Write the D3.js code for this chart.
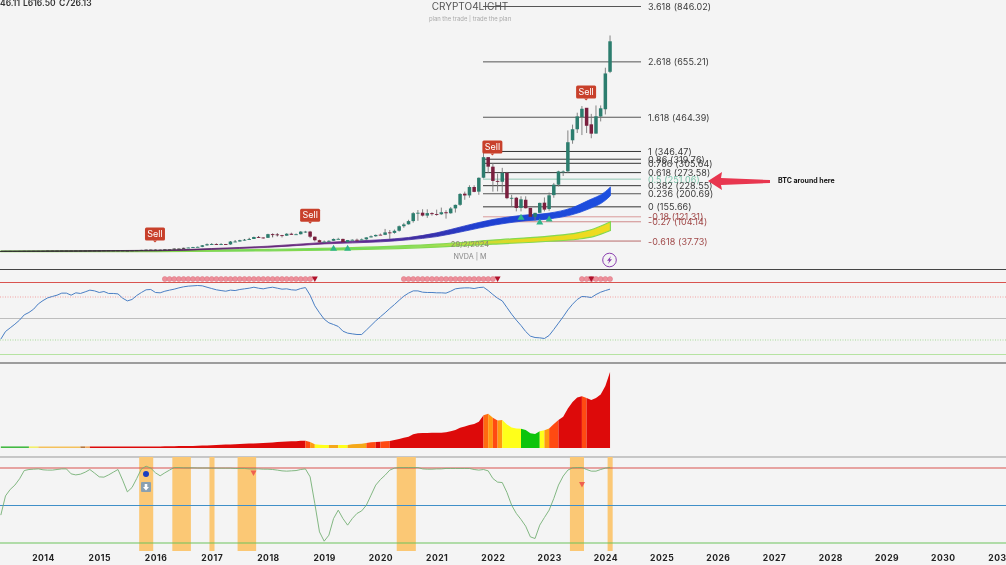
<!DOCTYPE html>
<html>
<head>
<meta charset="utf-8">
<script src="https://cdnjs.cloudflare.com/ajax/libs/d3/7.8.5/d3.min.js"></script>
<style>
html, body { margin: 0; padding: 0; background: #f4f4f4; overflow: hidden; }
svg { display: block; filter: blur(0.3px); font-family: Inter, "Liberation Sans", sans-serif; }
</style>
</head>
<body>
<svg id="chart" width="1006" height="565"></svg>
<script>
// monthly candles, April 2013 to February 2024
var firstMonth = 2013 + 3 / 12;

var opens = [3.2,3.2,3.6,3.5,3.4,3.65,3.9,3.8,4.0,
  4.0,3.9,4.6,4.5,4.6,4.8,4.65,4.4,4.85,4.6,4.9,5.2,
  5,5.1,5.7,5.2,5.5,5.5,5,5,5.6,6.1,7.1,8,
  8.2,7.3,7.9,8.9,8.9,11.7,11.8,14.3,15.3,17.2,17.9,23,
  26.9,27.4,25.3,27.3,26.1,36,36.2,40.7,42.4,44.8,51.8,50,
  48.9,61.5,60.7,58,56.3,63,59.3,61.3,70.3,70.4,52.7,40.7,
  32.7,36,38.7,45,45.1,34,41.2,42.2,41.9,43.6,50.3,54.3,
  59.7,59.1,67.6,65.9,73.3,88.9,95.4,106.5,133.8,135.4,125.4,134,
  131,130,137,133.5,150.3,162.6,201,195,224,208,256,327,
  294,245,242,273,186,187,152,180,152,121,135,170,
  148,196,232,277,278,385,423,465,497,440,408,467,
  492,621];
var highs = [3.3,3.7,3.75,3.6,3.7,3.95,3.95,4.05,4.1,
  4.2,4.7,4.8,4.75,4.8,4.85,4.75,4.9,4.95,4.95,5.3,5.4,
  5.3,5.8,5.8,5.7,5.9,5.6,5.2,5.9,6.3,7.3,8.2,8.6,
  8.4,8.2,9.2,9.4,12,12.3,14.6,15.6,17.6,18.4,23.7,29,
  30,29.3,29.8,27.7,37.6,40.8,41.9,44.8,48.8,52.6,54.6,49.9,
  62.6,63.9,64.6,59,65,66.5,63.7,72.4,72.8,72.9,53.6,42.6,
  40,40.5,46.6,48.9,45.9,41.5,43.9,46.2,46.6,50.8,57.3,60.4,
  63.5,79.5,75.8,77.4,91.5,100.5,111,137.5,144.6,147.3,147.1,136.9,
  146,153,144,155,163.5,203,208,230,230,257,346.5,320,
  307,270,290,276,197,190,192,192,146,135,170,188,
  205,238,280,281,419,439,480,503,477,476,505,505,
  635,746.11];
var lows = [3.0,3.2,3.4,3.3,3.35,3.6,3.65,3.75,3.85,
  3.85,3.9,4.4,4.4,4.55,4.55,4.3,4.35,4.55,4.2,4.85,4.8,
  4.7,5,5.1,5.1,5.3,4.9,4.7,4.4,5.4,5.9,6.9,7.6,
  6.5,6.6,7.7,8.7,8.7,11,11.2,13.9,14.7,16.8,16.7,22.2,
  24.2,24.6,24,25.1,25.3,34.3,36.3,39.7,41.6,44.8,48.6,46.6,
  48.4,50.4,53.5,50,55.5,58.8,59.2,60.2,65.5,47.8,36.3,31.1,
  31.9,34.9,38.2,44.7,33.3,33.7,40.8,38.7,41.9,42,50.2,52.5,
  59.1,58.2,45.2,63,70.3,83.4,94.5,101.2,107.5,122.3,117.5,125.2,
  125,128,115,132,136,159,180,187,206,197,254,272,
  208,209,205,182,156,140,140,150,120,108,135,140,
  142,187,226,262,272,373,410,403,410,392,408,450,
  474,616.5];
var closes = [3.21,3.6,3.51,3.36,3.65,3.89,3.82,3.97,4.0,
  3.92,4.58,4.48,4.62,4.76,4.64,4.37,4.86,4.61,4.89,5.2,5.01,
  5.1,5.68,5.23,5.55,5.5,5.03,5.0,5.6,6.16,7.09,8.0,8.24,
  7.33,7.83,8.91,8.89,11.69,11.75,14.27,15.34,17.13,17.79,23.05,26.69,
  27.3,25.4,27.2,26.06,36.0,36.14,40.6,42.3,44.7,51.7,50.0,48.4,
  61.4,60.8,57.9,56.2,62.9,59.2,61.2,70.2,70.3,52.7,40.6,33.4,
  35.9,38.5,44.9,45.2,33.9,41.1,42.2,41.9,43.5,50.3,54.2,58.8,
  59.1,67.5,65.9,73.1,88.8,95,106.4,133.7,135.3,125.4,134.0,130.5,
  129.9,137,133.5,150,162.4,200,194.9,223.9,207.2,255.7,326.8,294.1,
  244.9,243.9,272.9,185.5,186.7,151.6,181.6,150.9,121.4,134.9,169.2,146.1,
  195.4,232.2,277.8,277.5,378.3,423,467.3,493.6,435,407.8,467.7,495.2,
  615.3,726.13];

// moving average ribbons, sampled at these years
var maYears = [2013.25,2016,2017,2018,2019,2020,2020.5,2021,2021.5,2022,2022.5,2023,2023.4,2023.7,2024,2024.09];
var blueTop = [3,6,12,20,33,42,50,66,90,112,126,134,152,178,208,224];
var blueBot = [2,4,9,16,28,35,42,53,72,92,106,114,128,148,178,194];
var greenYears = [2013.25,2016,2018,2019.5,2021,2022,2023,2023.5,2023.8,2024.09];
var greenTop = [3,5,9,15,27,41,55,66,80,104];
var greenBot = [1,1.5,4,8,17,27,37,44,54,74];

var fibRatios = ["3.618","2.618","1.618","1","0.86","0.786","0.618","0.5","0.382","0.236","0","-0.18","-0.27","-0.618"];
var fibPrices = [846.02,655.21,464.39,346.47,319.76,305.64,273.58,251.06,228.55,200.69,155.66,121.31,104.14,37.73];
var fibColors = ["#555","#555","#555","#333","#333","#333","#333","#8fc7b4","#333","#555","#333","#d99a9a","#d08a8a","#b96a6a"];

var sellMonths = [33,66,105,125];
var sellPrices = [62,127,362,551];
var buyMonths = [71,74,111,115,117];
var buyPrices = [13,13,120,103,114];

// rsi panel
var rsiLevels = [83.5,70,50,30,16.5];
var rsiLevelColors = ["#d9534f","#f2a0a0","#bdbdbd","#a8dc98","#b6e3a2"];
var rsi = [30.8,37.9,41.3,44.7,48.5,53.4,55.6,58.7,63.6,66.7,69.2,70.5,71.7,73.6,73.6,71.7,73.9,73.3,74.8,76.4,75.7,74.2,75.1,73.3,73.3,72.9,68.9,66.4,67.7,71.4,74.2,76.7,77,74.2,73.9,75.4,76.4,77.3,78.5,79.5,80.1,80.4,80.7,80.4,79.1,77.9,76.7,76,75.4,76.4,76,77,77.6,78.2,79.1,78.2,77.6,78.5,79.1,78.2,77.3,77.6,76.7,76.4,77.9,78.8,
  71.7,61.8,55.3,49.4,46,44.4,42.6,38.2,36.4,35.7,35.1,35.1,39.2,43.5,47.8,51.6,55.3,59.3,63,67,70.8,73.6,75.7,75.7,74.5,74.2,74.2,73.9,73.9,73.6,75.4,77.6,78.2,78.5,78.5,77.9,78.8,79.1,76,72.3,68.9,66.4,60.2,54,48.5,43.5,37.9,33.6,32.3,32,31.4,34.2,39.8,45.7,51.6,58,63.3,67.7,70.5,70.2,69.5,72.3,74.5,76,77.3];
var obRuns = [[35,66],[86,105],[124,130]];
var obTriangles = [67,106,126];

// risk area panel
var risk = [1.6,1.6,1.6,1.6,1.6,1.6,1.6,1.6,1.6,1.6,1.6,1.6,1.6,1.6,1.6,1.6,1.6,1.6,1.6,1.6,1.6,1.6,1.6,1.6,1.6,1.6,1.6,1.6,1.6,1.6,1.6,1.6,1.6,1.6,1.6,1.7,1.8,1.8,1.9,1.9,2,2.1,2.2,2.4,2.6,2.8,3,3.2,3.4,3.6,3.8,4,4.2,4.4,4.6,4.8,5,5.3,5.6,6,
  6.3,6.5,6.7,6.8,7.2,7.2,6,3.7,3.3,3,3,3,3,3,3,3.7,4,4.3,5,5.7,6,6.3,6.7,7,8,9,10.3,11.3,13.7,14.7,15,15,15.2,15.3,15.3,15.7,16.7,18,20.3,21.7,23,24,26.3,33,34.3,30.3,27.7,28,23.7,20.7,19.7,19.3,18,14.7,14,16.7,17.7,19.7,24,28,31.3,39.7,46.3,50.7,52,50.3,48.3,50.3,53.7,62.3,76.3];
var riskRunEnds = [6,8,17,18,19,65,66,67,70,72,74,78,80,81,83,103,104,105,106,107,111,115,116,117,119,124,125,130];
var riskRunColors = ["#43b943","#f2ef6a","#f4c15c","#b5763c","#f4a85c","#dd0a0a","#ff4a12","#ff9a10","#ffff1a","#f5a818","#ffff1a","#f5a818","#ff4a12","#dd0a0a","#ff4a12","#dd0a0a","#ff6a10","#ff9a10","#ff4a12","#ff9a10","#ffff1a","#0cc40c","#ffff1a","#ff9a10","#ff4a12","#dd0a0a","#ff4a12","#dd0a0a"];

// lower oscillator panel
var oscLevels = [75,50,25];
var oscLevelColors = ["#d9534f","#3f8fc8","#6cc35c"];
var osc = [43.6,56.4,60.7,63.6,67.8,73.3,74,74.2,74.4,73.8,73.6,73.6,74,74.4,74.4,71.1,70.4,70.9,72.2,74,71.6,69.1,68.9,70.4,72.2,74,66.9,59.1,62,68,74.4,76.2,74.9,71.8,69.8,71.8,73.6,75.3,75.3,75.1,75.1,75.1,75,75,75,74.9,74.9,74.9,74.9,74.9,74.7,74.7,74.7,74.4,74.4,74.4,74.2,74.2,74,73.6,73.1,72.9,73.1,73.3,74,74.4,69.1,51.3,32.4,26.2,30.2,41.3,46.9,41.3,36.9,41.3,44.7,46.4,50.2,56.9,63.6,67.3,70.2,73.6,74.9,75.3,75.3,75.3,75.3,75.3,74.4,74.2,74.2,74.4,74.4,74.7,74.7,74.7,74.7,74.7,74.7,74,73.6,74,73.1,68,65.6,65.3,58.7,50.2,44.7,40.7,36.2,29.1,28,36.9,42,46.9,54.7,63.6,69.6,73.6,75.1,75.3,75.3,74,72.9,72.9,74,74.9,75.3];
var oscBands = [[2015.71,2015.96],[2016.30,2016.63],[2016.96,2017.05],[2017.46,2017.79],[2020.29,2020.63],[2023.37,2023.62],[2024.04,2024.13]];

var years = [2014,2015,2016,2017,2018,2019,2020,2021,2022,2023,2024,2025,2026,2027,2028,2029,2030,2031];

var width = 1006, height = 565;
var svg = d3.select("#chart");

// scales
var x = d3.scaleLinear().domain([2014, 2031]).range([43, 999]);
var y = d3.scaleLinear().domain([0, 846.02]).range([252, 6.5]);
var yRsi = d3.scaleLinear().domain([50, 83.5]).range([318.5, 282.5]);
var yRisk = d3.scaleLinear().domain([0, 76.3]).range([448, 372]);
var yOsc = d3.scaleLinear().domain([25, 75]).range([543, 468]);

function monthX(i) { return x(firstMonth + i / 12); }

svg.append("rect").attr("width", width).attr("height", height).attr("fill", "#f4f4f4");

// panel separators
svg.selectAll(".sep").data([269.5, 363]).join("line")
  .attr("x1", 0).attr("x2", width).attr("y1", d => d).attr("y2", d => d)
  .attr("stroke", "#444").attr("stroke-width", 1);
svg.append("line").attr("x1", 0).attr("x2", width).attr("y1", 457).attr("y2", 457)
  .attr("stroke", "#999").attr("stroke-width", 1);

var defs = svg.append("defs");
function gradient(id, stops) {
  var g = defs.append("linearGradient").attr("id", id).attr("gradientUnits", "userSpaceOnUse")
    .attr("x1", 0).attr("x2", 610).attr("y1", 0).attr("y2", 0);
  stops.forEach(s => g.append("stop").attr("offset", s[0]).attr("stop-color", s[1]));
}
gradient("blueBand", [[0, "#2b2b2b"], [0.3, "#5a1f66"], [0.55, "#6a2a86"], [0.7, "#3a2fa8"], [0.78, "#1f3fd0"], [1, "#1c4fe0"]]);
gradient("greenBand", [[0, "#3ad08a"], [0.5, "#3fd87a"], [0.68, "#8ee05a"], [0.78, "#c4dc3a"], [0.86, "#e6d820"], [1, "#f0dc20"]]);

// fib levels
fibPrices.forEach(function (p, i) {
  svg.append("line").attr("x1", 483).attr("x2", 641).attr("y1", y(p)).attr("y2", y(p))
    .attr("stroke", fibColors[i]).attr("stroke-width", 1);
  svg.append("text").attr("x", 648).attr("y", y(p) + 3.5)
    .attr("font-size", 9).attr("letter-spacing", 0.1)
    .attr("fill", i == 7 ? "#7cc4aa" : (i > 10 ? "#a04848" : "#3a3a3a"))
    .text(fibRatios[i] + " (" + p.toFixed(2) + ")");
});

// moving average ribbons
var blueData = maYears.map((d, i) => ({ x: d, top: blueTop[i], bot: blueBot[i] }));
var greenData = greenYears.map((d, i) => ({ x: d, top: greenTop[i], bot: greenBot[i] }));
var band = d3.area().x(d => x(d.x)).y0(d => y(d.bot)).y1(d => y(d.top)).curve(d3.curveMonotoneX);
svg.append("path").attr("d", band(greenData)).attr("fill", "url(#greenBand)")
  .attr("stroke", "#84d850").attr("stroke-width", 1.2);
svg.append("path").attr("d", band(blueData)).attr("fill", "url(#blueBand)")
  .attr("stroke", "url(#blueBand)").attr("stroke-width", 0.8);

// buy triangles
svg.selectAll(".buy").data(buyMonths).join("path")
  .attr("transform", (d, i) => "translate(" + monthX(d) + "," + y(buyPrices[i]) + ")")
  .attr("d", "M0,-3.5L3.5,2.5L-3.5,2.5Z").attr("fill", "#2fb58a");

// candles
var candles = d3.range(closes.length);
svg.selectAll(".wick").data(candles).join("line")
  .attr("x1", monthX).attr("x2", monthX)
  .attr("y1", d => y(highs[d])).attr("y2", d => y(lows[d]))
  .attr("stroke", d => d < 60 ? "#444" : "#777").attr("stroke-width", 0.9);
svg.selectAll(".body").data(candles).join("rect")
  .attr("x", d => monthX(d) - 1.75).attr("width", 3.5)
  .attr("y", d => y(Math.max(opens[d], closes[d])))
  .attr("height", d => Math.max(0.9, Math.abs(y(opens[d]) - y(closes[d]))))
  .attr("fill", d => d < 40 ? "#333" : (closes[d] >= opens[d] ? "#2c7d6e" : "#7a1f3e"));

// sell flags
sellMonths.forEach(function (m, i) {
  var g = svg.append("g").attr("transform", "translate(" + (m == 66 ? monthX(m) : monthX(m) - 0.5) + "," + y(sellPrices[i]) + ")");
  g.append("rect").attr("x", -10).attr("y", -6.5).attr("width", 20).attr("height", 13).attr("rx", 1.5).attr("fill", "#c8402b");
  g.append("path").attr("d", "M-2,6.5L0,8.5L2,6.5Z").attr("fill", "#c8402b");
  g.append("text").attr("text-anchor", "middle").attr("y", 3.2).attr("font-size", 9).attr("fill", "#fff").text("Sell");
});

// header text
svg.append("text").attr("x", 0).attr("y", 5.5).attr("font-size", 8.5).attr("font-weight", 600).attr("fill", "#333").text("46.11");
svg.append("text").attr("x", 23).attr("y", 5.5).attr("font-size", 8.5).attr("font-weight", 600).attr("fill", "#333").text("L616.50");
svg.append("text").attr("x", 59).attr("y", 5.5).attr("font-size", 8.5).attr("font-weight", 600).attr("fill", "#333").text("C726.13");
svg.append("text").attr("x", 470).attr("y", 9.5).attr("text-anchor", "middle").attr("font-size", 10).attr("fill", "#555").text("CRYPTO4LIGHT");
svg.append("text").attr("x", 470).attr("y", 20.5).attr("text-anchor", "middle").attr("font-size", 5.9).attr("fill", "#aaa").text("plan the trade | trade the plan");
svg.append("text").attr("x", 470).attr("y", 247).attr("text-anchor", "middle").attr("font-size", 7.6).attr("fill", "#8a8a70").text("29/2/2024");
svg.append("text").attr("x", 470).attr("y", 259).attr("text-anchor", "middle").attr("font-size", 7.2).attr("fill", "#888").text("NVDA | M");

// lightning badge
var bolt = svg.append("g").attr("transform", "translate(609.5,260)");
bolt.append("circle").attr("r", 6.8).attr("fill", "none").attr("stroke", "#8b3fb0").attr("stroke-width", 1);
bolt.append("path").attr("d", "M1.5,-4L-2.5,0.8L-0.3,0.8L-1.5,4L2.5,-0.8L0.3,-0.8Z").attr("fill", "#8b3fb0");

// annotation arrow
svg.append("path").attr("d", "M708,181L722,172L721,178L770,180L770,183L721,185L722,190Z").attr("fill", "#e8364f");
svg.append("text").attr("x", 778).attr("y", 182.5).attr("font-size", 7).attr("font-weight", 700).attr("fill", "#111").text("BTC around here");

// rsi panel
rsiLevels.forEach(function (l, i) {
  svg.append("line").attr("x1", 0).attr("x2", width).attr("y1", yRsi(l)).attr("y2", yRsi(l))
    .attr("stroke", rsiLevelColors[i]).attr("stroke-width", (i == 4 || i == 1 || i == 3) ? 1.2 : 1)
    .attr("stroke-dasharray", (i == 1 || i == 3) ? "1,1.5" : null);
});
var rsiLine = d3.line().x((d, i) => monthX(i)).y(d => yRsi(d));
svg.append("path").attr("d", rsiLine(rsi)).attr("fill", "none").attr("stroke", "#4a7fc4").attr("stroke-width", 1);

obRuns.forEach(function (r) {
  svg.selectAll(null).data(d3.range(r[0], r[1] + 1)).join("circle")
    .attr("cx", monthX).attr("cy", 279).attr("r", 2.5)
    .attr("fill", "#ee8f9a").attr("stroke", "#d8737f").attr("stroke-width", 0.5);
});
svg.selectAll(".ob").data(obTriangles).join("path")
  .attr("transform", d => "translate(" + monthX(d) + ",279)")
  .attr("d", "M-3,-2.5L3,-2.5L0,3Z").attr("fill", "#b0102a");

// risk area
var riskArea = d3.area().x(d => monthX(d)).y0(yRisk(0)).y1(d => yRisk(risk[d]));
var runStart = 0;
riskRunEnds.forEach(function (end, i) {
  svg.append("path").attr("d", riskArea(d3.range(Math.max(0, runStart - 1), end + 1))).attr("fill", riskRunColors[i]);
  runStart = end + 1;
});

// oscillator panel
svg.selectAll(".oband").data(oscBands).join("rect")
  .attr("x", d => x(d[0])).attr("width", d => x(d[1]) - x(d[0]))
  .attr("y", 457).attr("height", 94).attr("fill", "#fbc875");
oscLevels.forEach(function (l, i) {
  svg.append("line").attr("x1", 0).attr("x2", width).attr("y1", yOsc(l)).attr("y2", yOsc(l))
    .attr("stroke", oscLevelColors[i]).attr("stroke-width", 1);
});
var oscLine = d3.line().x((d, i) => monthX(i)).y(d => yOsc(d));
svg.append("path").attr("d", oscLine(osc)).attr("fill", "none").attr("stroke", "#75b075").attr("stroke-width", 0.9);

// oscillator markers
svg.append("circle").attr("cx", 146).attr("cy", 474).attr("r", 3).attr("fill", "#1c3fc0");
svg.append("rect").attr("x", 141).attr("y", 482).attr("width", 10).attr("height", 10).attr("rx", 1).attr("fill", "#8aa0b0");
svg.append("path").attr("d", "M144.7,484L147.3,484L147.3,487L149,487L146,490.5L143,487L144.7,487Z").attr("fill", "#fff");
[[253.5, 473], [582, 484.5]].forEach(function (p) {
  svg.append("path").attr("transform", "translate(" + p[0] + "," + p[1] + ")")
    .attr("d", "M-3,-2.5L3,-2.5L0,3Z").attr("fill", "#ee6050");
});

// time axis
var axis = d3.axisBottom(x).tickValues(years).tickFormat(d3.format("d")).tickSize(0);
var ax = svg.append("g").attr("transform", "translate(0,555)").call(axis);
ax.select(".domain").remove();
ax.selectAll("text").attr("font-family", "Inter, sans-serif").attr("font-size", 8.6)
  .attr("font-weight", 700).attr("fill", "#222").attr("letter-spacing", 0.5).attr("dy", "0.35em").attr("y", 3);
</script>
</body>
</html>
